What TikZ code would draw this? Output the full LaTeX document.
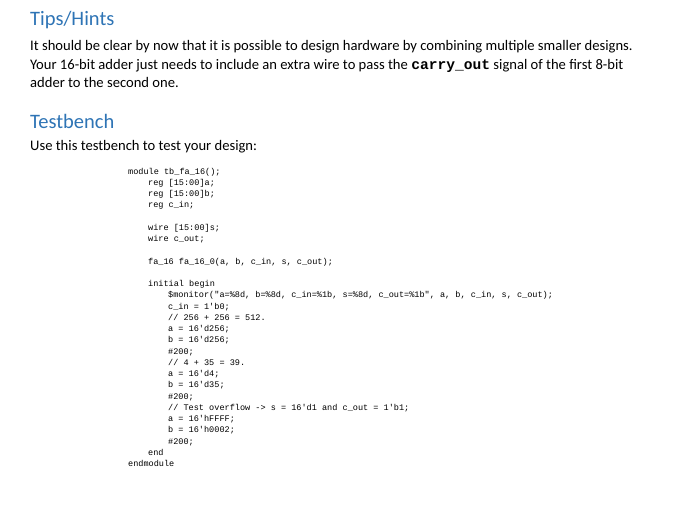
\documentclass[tikz,border=0pt]{standalone}
\usepackage{fontspec}
\setmainfont{Carlito}
\setmonofont{Liberation Mono}
\definecolor{head}{HTML}{2E74B5}
\begin{document}
\begin{tikzpicture}[x=1pt,y=-1pt,
  heading/.style={anchor=base west,inner sep=0pt,text=head,font=\fontsize{20.5}{24}\selectfont},
  body/.style={anchor=base west,inner sep=0pt,font=\fontsize{14.6}{17}\selectfont},
  code/.style={anchor=base west,inner sep=0pt,font=\ttfamily\fontsize{8.55}{10}\selectfont}]
\useasboundingbox (0,0) rectangle (675,522);
\node[heading] (h1) at (30,25) {Tips/Hints};
\node[body] (p1) at (30,50) {It should be clear by now that it is possible to design hardware by combining multiple smaller designs.};
\node[body] (p2) at (30,69) {Your 16-bit adder just needs to include an extra wire to pass the {\ttfamily\bfseries carry\_out} signal of the first 8-bit};
\node[body] (p3) at (30,87) {adder to the second one.};
\node[heading] (h2) at (30,128) {Testbench};
\node[body] (p4) at (30,150) {Use this testbench to test your design:};
\foreach \i/\ind/\txt in {
0/0/{module tb\_fa\_16();},
1/1/{reg [15:00]a;},
2/1/{reg [15:00]b;},
3/1/{reg c\_in;},
5/1/{wire [15:00]s;},
6/1/{wire c\_out;},
8/1/{fa\_16 fa\_16\_0(a, b, c\_in, s, c\_out);},
10/1/{initial begin},
11/2/{\$monitor("a=\%8d, b=\%8d, c\_in=\%1b, s=\%8d, c\_out=\%1b", a, b, c\_in, s, c\_out);},
12/2/{c\_in = 1'b0;},
13/2/{// 256 + 256 = 512.},
14/2/{a = 16'd256;},
15/2/{b = 16'd256;},
16/2/{\#200;},
17/2/{// 4 + 35 = 39.},
18/2/{a = 16'd4;},
19/2/{b = 16'd35;},
20/2/{\#200;},
21/2/{// Test overflow -> s = 16'd1 and c\_out = 1'b1;},
22/2/{a = 16'hFFFF;},
23/2/{b = 16'h0002;},
24/2/{\#200;},
25/1/{end},
26/0/{endmodule}}
  \node[code] (c\i) at ({128+20*\ind},{174+11.25*\i}) {\txt};
\end{tikzpicture}
\end{document}
